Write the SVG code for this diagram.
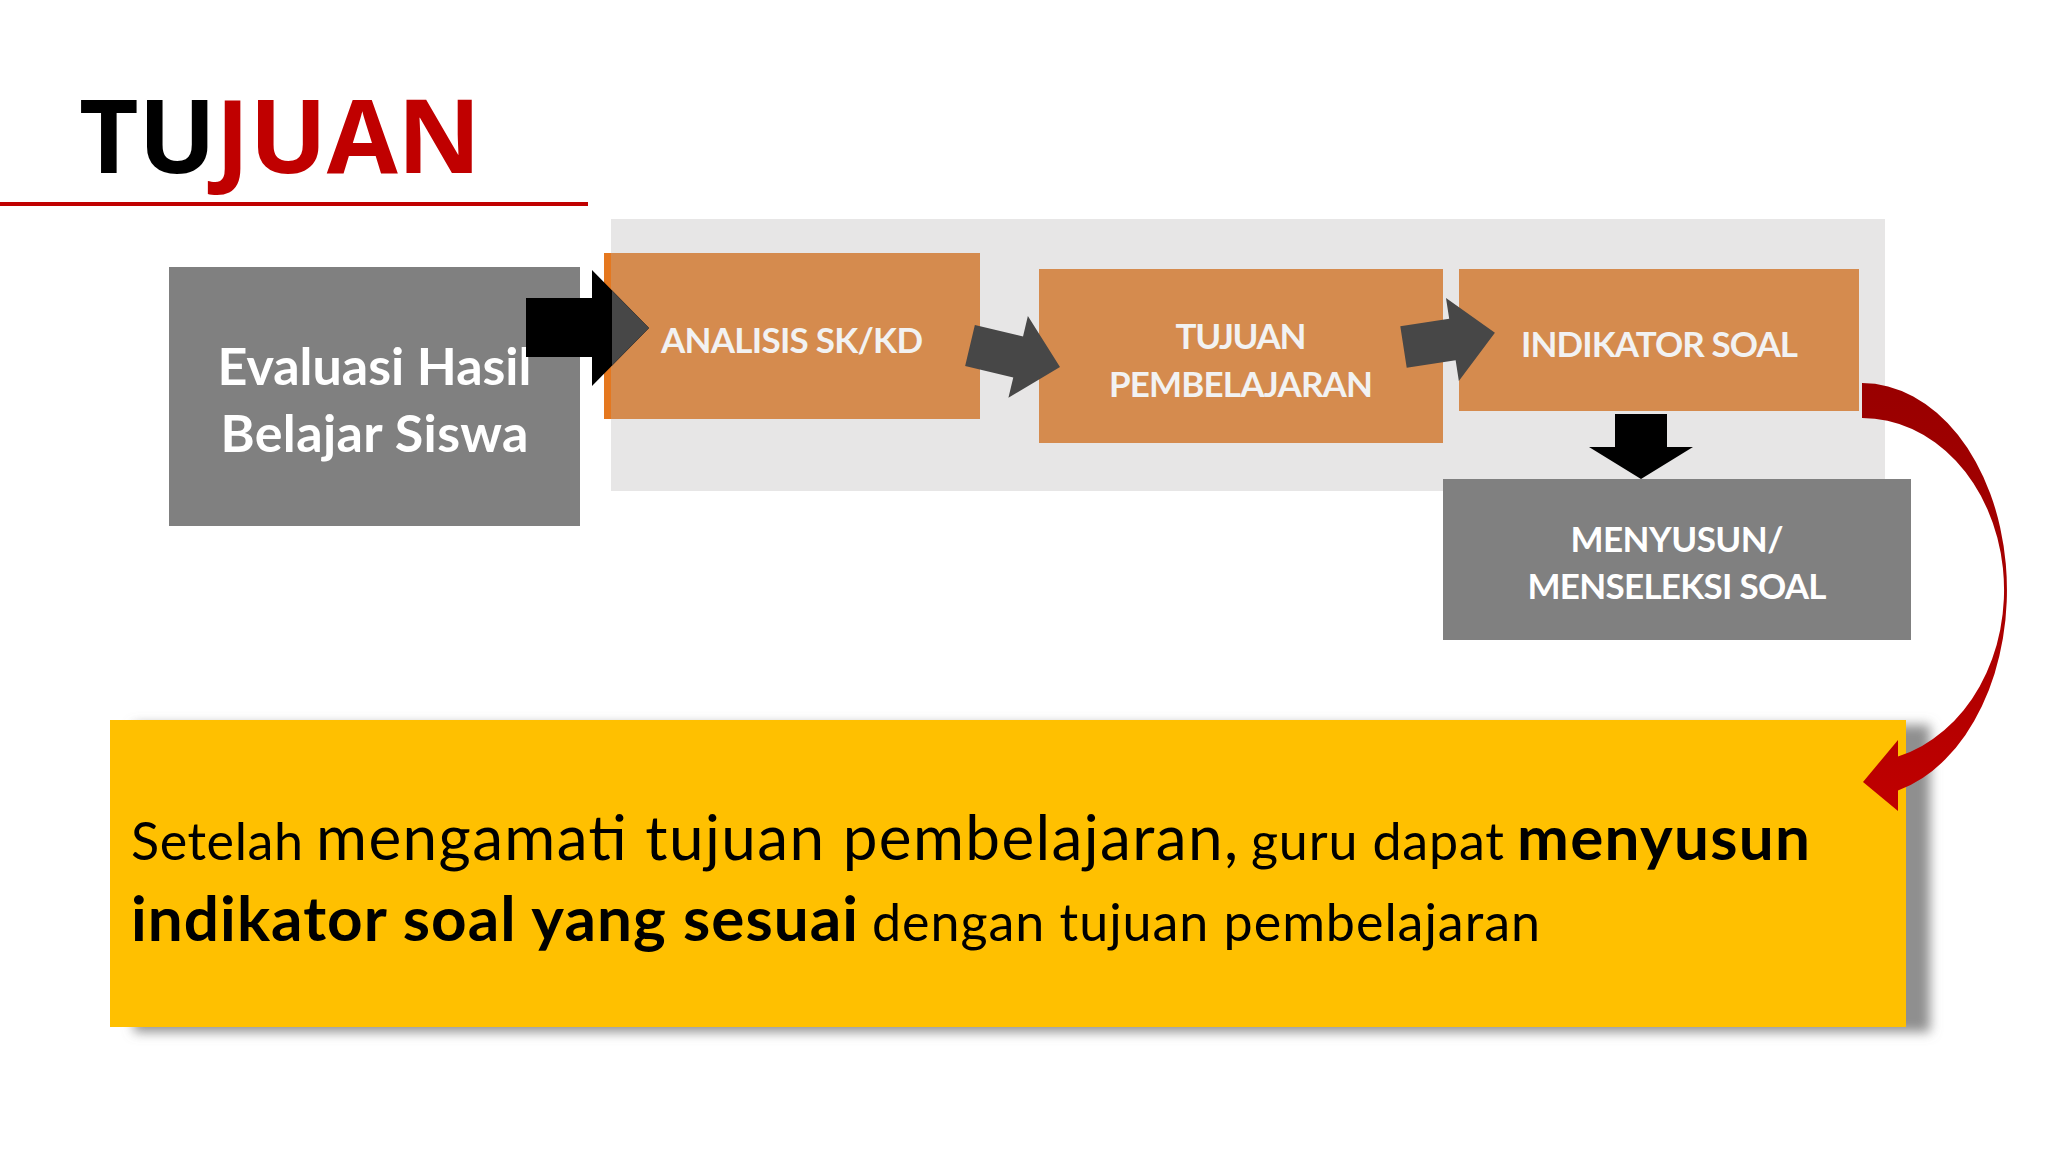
<svg xmlns="http://www.w3.org/2000/svg" width="2048" height="1152" viewBox="0 0 2048 1152">
  <defs>
    <style>
      .title { font-family: "Open Sans", Lato, "Liberation Sans", sans-serif; font-weight: 700; font-size: 103px; }
      .big { font-family: Lato, "Liberation Sans", sans-serif; font-weight: 700; font-size: 52px; fill: #FFFFFF; }
      .node { font-family: Lato, "Liberation Sans", sans-serif; font-weight: 700; font-size: 35px; fill: #F2F2F2; }
      .nodew { font-family: Lato, "Liberation Sans", sans-serif; font-weight: 700; font-size: 35px; fill: #FFFFFF; }
      .orange { fill: #D58B4E; }
      .grey { fill: #808080; }
      .body { font-family: Lato, "Liberation Sans", sans-serif; fill: #000000; }
      .lg { font-size: 62px; }
      .sm { font-size: 52px; }
      .b { font-weight: 700; }
    </style>
    <linearGradient id="redGrad" x1="0" y1="0" x2="0" y2="1">
      <stop offset="0" stop-color="#990000"/>
      <stop offset="0.5" stop-color="#A80000"/>
      <stop offset="1" stop-color="#C00000"/>
    </linearGradient>
    <filter id="shadow" x="-5%" y="-10%" width="115%" height="125%">
      <feDropShadow dx="24" dy="5" stdDeviation="6" flood-color="#7A7A7A" flood-opacity="0.85"/>
    </filter>
    <polygon id="fatArrow" points="0,-21 49.5,-21 49.5,-42 92.5,0 49.5,42 49.5,21 0,21"/>
  </defs>

  <rect width="2048" height="1152" fill="#FFFFFF"/>

  <g id="title">
    <text class="title" x="79" y="173" textLength="402" lengthAdjust="spacing"><tspan fill="#000000">TU</tspan><tspan fill="#C00000">JUAN</tspan></text>
    <rect x="0" y="202" width="588" height="4" fill="#C00000"/>
  </g>

  <g id="panel">
    <rect x="611" y="219" width="1274" height="272" fill="#E7E6E6"/>
  </g>

  <g id="node-evaluasi">
    <rect class="grey" x="169" y="267" width="411" height="259"/>
    <text class="big" x="374.5" y="385" text-anchor="middle" textLength="314" lengthAdjust="spacing">Evaluasi Hasil</text>
    <text class="big" x="374.5" y="452" text-anchor="middle" textLength="308" lengthAdjust="spacing">Belajar Siswa</text>
  </g>

  <g id="node-analisis">
    <rect class="orange" x="604" y="253" width="376" height="166"/>
    <rect x="604" y="253" width="7" height="166" fill="#E5781F"/>
    <text class="node" x="792" y="353" text-anchor="middle" textLength="262" lengthAdjust="spacing">ANALISIS SK/KD</text>
  </g>

  <g id="node-tujuan">
    <rect class="orange" x="1039" y="269" width="404" height="174"/>
    <text class="node" x="1241" y="349" text-anchor="middle" textLength="131" lengthAdjust="spacing">TUJUAN</text>
    <text class="node" x="1241" y="397" text-anchor="middle" textLength="264" lengthAdjust="spacing">PEMBELAJARAN</text>
  </g>

  <g id="node-indikator">
    <rect class="orange" x="1459" y="269" width="400" height="142"/>
    <text class="node" x="1659.5" y="357" text-anchor="middle" textLength="277" lengthAdjust="spacing">INDIKATOR SOAL</text>
  </g>

  <g id="node-menyusun">
    <rect class="grey" x="1443" y="479" width="468" height="161"/>
    <text class="nodew" x="1677" y="552" text-anchor="middle" textLength="213" lengthAdjust="spacing">MENYUSUN/</text>
    <text class="nodew" x="1677" y="599" text-anchor="middle" textLength="299" lengthAdjust="spacing">MENSELEKSI SOAL</text>
  </g>

  <g id="node-kesimpulan">
    <rect x="110" y="720" width="1796" height="307" fill="#FFC000" filter="url(#shadow)"/>
    <text class="body sm" x="131" y="860" textLength="172" lengthAdjust="spacing">Setelah</text>
    <text class="body lg" x="316" y="860" textLength="922" lengthAdjust="spacing">mengamati tujuan pembelajaran,</text>
    <text class="body sm" x="1251" y="860" textLength="253" lengthAdjust="spacing">guru dapat</text>
    <text class="body lg b" x="1517" y="860" textLength="293" lengthAdjust="spacing">menyusun</text>
    <text class="body lg b" x="131" y="941" textLength="727" lengthAdjust="spacing">indikator soal yang sesuai</text>
    <text class="body sm" x="872" y="941" textLength="668" lengthAdjust="spacing">dengan tujuan pembelajaran</text>
  </g>

  <g id="connectors">
    <polygon points="526,298 592,298 592,270 649,328 592,386 592,357 526,357" fill="#000000"/>
    <polygon points="612,290.4 649,328 612,365.6" fill="#474747"/>
    <use href="#fatArrow" fill="#474747" transform="translate(970,345.5) rotate(13.4)"/>
    <use href="#fatArrow" fill="#474747" transform="translate(1403.5,347) rotate(-8.8)"/>
    <polygon points="1615,414 1667,414 1667,447 1693,447 1641,479 1589,447 1615,447" fill="#000000"/>
    <path d="M1862,383 A145,207 0 0 1 1898,790.5 L1898,811 L1863,782 L1898,740 L1898,756.4 A142,172 0 0 0 1862,418 Z" fill="url(#redGrad)"/>
  </g>
</svg>
